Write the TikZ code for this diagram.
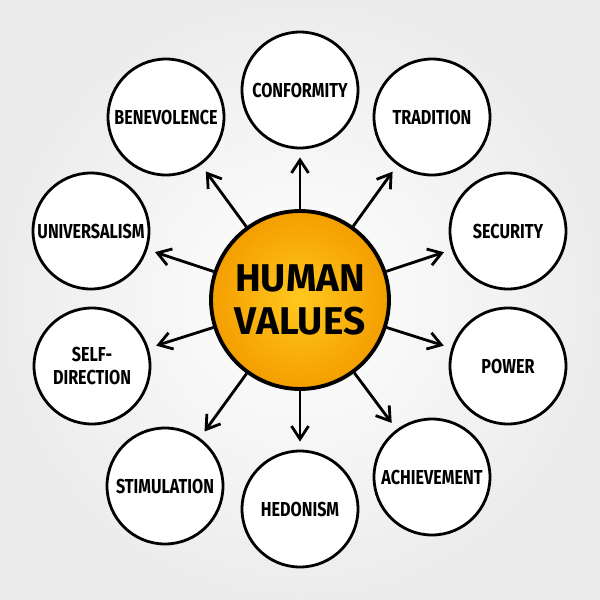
\documentclass[tikz,border=0pt]{standalone}
\usepackage{fontspec}
\setmainfont{Fira Sans}
\newfontfamily\handfont[FakeStretch=0.8]{Fira Sans}
\usetikzlibrary{arrows.meta,shadings}
\definecolor{hvinner}{HTML}{FFC81E}
\definecolor{hvouter}{HTML}{F49E00}
\definecolor{bgouter}{HTML}{ECECEC}

\begin{document}
\begin{tikzpicture}[x=0.02cm,y=-0.02cm,
    value/.style={circle,draw,fill=white,line width=1.6pt,minimum size=2.32cm,
        inner sep=0pt,align=center,font=\handfont\bfseries\fontsize{11.5}{13}\selectfont},
    hub/.style={circle,draw,line width=2.2pt,minimum size=3.56cm,inner sep=0pt,
        shade,inner color=hvinner,outer color=hvouter,align=center,
        font=\bfseries\fontsize{22}{24}\selectfont},
    link/.style={-{Straight Barb[length=2.6mm,width=3.4mm]},line width=1.6pt,
        shorten >=0.16cm}]
\useasboundingbox (0,0) rectangle (600,600);
\shade[inner color=white,outer color=bgouter] (0,0) rectangle (600,600);

% centre
\node[hub] (hv) at (300,300) {HUMAN\\VALUES};

% values round it
\node[value] (conf) at (300,90) {CONFORMITY};
\node[value] (trad) at (432,117) {TRADITION};
\node[value] (sec) at (508,231) {SECURITY};
\node[value] (pow) at (508,366) {POWER};
\node[value] (ach) at (432,477) {ACHIEVEMENT};
\node[value] (hed) at (300,509) {HEDONISM};
\node[value] (stim) at (165,486) {STIMULATION};
\node[value] (selfd) at (92,366) {SELF-\\DIRECTION};
\node[value] (univ) at (91,231) {UNIVERSALISM};
\node[value] (bene) at (166,117) {BENEVOLENCE};

\foreach \v in {conf,trad,sec,pow,ach,hed,stim,selfd,univ,bene}
    \draw[link] (hv) -- (\v);
\end{tikzpicture}
\end{document}
